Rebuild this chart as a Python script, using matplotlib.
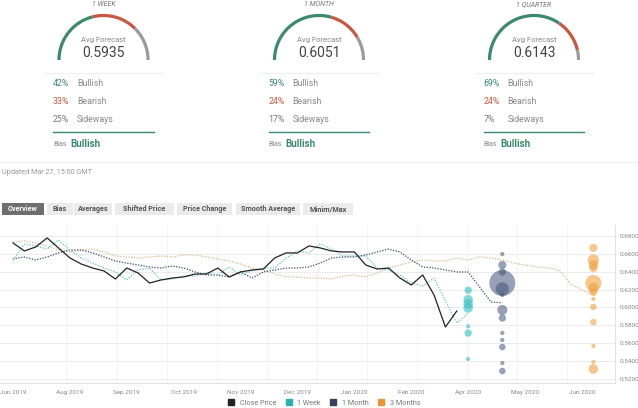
import numpy as np
import matplotlib.pyplot as plt
from matplotlib.lines import Line2D
from matplotlib.patches import Rectangle

plt.rcParams['font.family'] = ['Roboto', 'DejaVu Sans']

# gauge panels
horizons = ['1 WEEK', '1 MONTH', '1 QUARTER']
avg_fc = [0.5935, 0.6051, 0.6143]
bullish = [42, 59, 69]
bearish = [33, 24, 24]
sideways = [25, 17, 7]
bias = ['Bullish', 'Bullish', 'Bullish']

tabs = ['Overview', 'Bias', 'Averages', 'Shifted Price', 'Price Change', 'Smooth Average', 'Minim/Max']

# weekly series (week index 0 = early Jun 2019)
close = [0.6722, 0.6632, 0.6677, 0.6778, 0.6666, 0.6554, 0.6486, 0.6441, 0.6408, 0.6318,
         0.6441, 0.6385, 0.6273, 0.6307, 0.6329, 0.6341, 0.6374, 0.6374, 0.6441, 0.6341,
         0.6397, 0.6419, 0.6430, 0.6554, 0.6610, 0.6610, 0.6688, 0.6666, 0.6632, 0.6621,
         0.6621, 0.6475, 0.6430, 0.6441, 0.6329, 0.6251, 0.6363, 0.6139, 0.5780, 0.5960]
week1 = [0.6531, 0.6710, 0.6688, 0.6654, 0.6755, 0.6643, 0.6554, 0.6497, 0.6441, 0.6397,
         0.6307, 0.6419, 0.6441, 0.6307, 0.6318, 0.6352, 0.6352, 0.6385, 0.6363, 0.6453,
         0.6363, 0.6408, 0.6441, 0.6441, 0.6554, 0.6632, 0.6610, 0.6710, 0.6654, 0.6576,
         0.6576, 0.6576, 0.6441, 0.6419, 0.6363, 0.6273, 0.6240, 0.6329, 0.6072, 0.5825,
         0.5935]
month1 = [0.6542, 0.6565, 0.6531, 0.6565, 0.6610, 0.6643, 0.6643, 0.6610, 0.6565, 0.6520,
          0.6497, 0.6475, 0.6453, 0.6441, 0.6464, 0.6441, 0.6397, 0.6363, 0.6363, 0.6341,
          0.6397, 0.6329, 0.6397, 0.6419, 0.6441, 0.6441, 0.6453, 0.6497, 0.6554, 0.6565,
          0.6565, 0.6587, 0.6621, 0.6654, 0.6621, 0.6531, 0.6453, 0.6441, 0.6419, 0.6397,
          0.6397, 0.6229, 0.6061, 0.6051]
month3 = [0.6733, 0.6744, 0.6722, 0.6688, 0.6643, 0.6621, 0.6643, 0.6654, 0.6621, 0.6576,
          0.6565, 0.6554, 0.6565, 0.6576, 0.6565, 0.6587, 0.6587, 0.6565, 0.6542, 0.6520,
          0.6486, 0.6441, 0.6419, 0.6374, 0.6341, 0.6341, 0.6329, 0.6329, 0.6318, 0.6352,
          0.6363, 0.6341, 0.6385, 0.6441, 0.6475, 0.6509, 0.6531, 0.6520, 0.6520, 0.6554,
          0.6531, 0.6565, 0.6554, 0.6531, 0.6497, 0.6475, 0.6453, 0.6441, 0.6419, 0.6262,
          0.6195, 0.6143]

# forecast bubbles: position (week index), levels, number of votes
w1_x = 40
w1_lv = [0.6192, 0.6086, 0.6038, 0.5993, 0.5788, 0.5713, 0.5422]
w1_n = [4, 7, 7, 7, 1, 4, 1]
m1_x = 43
m1_lv = [0.6598, 0.6475, 0.6397, 0.6273, 0.6206, 0.6139, 0.5971, 0.5881, 0.5713, 0.5635,
         0.5556, 0.5377, 0.5287]
m1_n = [1, 5, 4, 55, 14, 1, 8, 4, 1, 1, 3, 1, 3]
q1_x = 51
q1_lv = [0.6666, 0.6531, 0.6475, 0.6441, 0.6273, 0.6217, 0.6173, 0.6094, 0.6005, 0.5836,
         0.5568, 0.5388, 0.5310]
q1_n = [5, 10, 7, 5, 21, 8, 5, 1, 3, 3, 1, 1, 7]

xtick_pos = [0, 5, 10, 15, 20, 25, 30, 35, 40, 45, 50]
xtick_lab = ['Jun 2019', 'Aug 2019', 'Sep 2019', 'Oct 2019', 'Nov 2019', 'Dec 2019',
             'Jan 2020', 'Feb 2020', 'Apr 2020', 'May 2020', 'Jun 2020']

GREEN = '#3b8a6c'
RED = '#c9573f'
GREY = '#9a9a9a'

fig = plt.figure(figsize=(6.38, 4.08), dpi=100)

# overlay in pixel units for the top widgets
ov = fig.add_axes([0, 0, 1, 1])
ov.set_xlim(0, 638)
ov.set_ylim(408, 0)
ov.axis('off')

centers = [103.5, 319, 534]
cy, r = 60, 44.5
for k, cx in enumerate(centers):
    a0 = 180
    for pct, col in zip([bullish[k], bearish[k], sideways[k]], [GREEN, RED, GREY]):
        a1 = a0 - 1.8 * pct
        t = np.radians(np.linspace(a0, a1, 60))
        ov.plot(cx + r * np.cos(t), cy - r * np.sin(t), color=col, lw=2.3, solid_capstyle='butt')
        a0 = a1
    ov.text(cx, 4, horizons[k], ha='center', va='center', fontsize=5, style='italic', color='#777777')
    ov.text(cx, 40, 'Avg Forecast', ha='center', va='center', fontsize=5.5, color='#888888')
    ov.text(cx, 53, f'{avg_fc[k]:.4f}', ha='center', va='center', fontsize=10, color='#444444')
    ov.plot([cx - 59.5, cx + 59.5], [73, 73], color='#eeeeee', lw=0.8)
    rows = [(bullish[k], 'Bullish', GREEN), (bearish[k], 'Bearish', RED), (sideways[k], 'Sideways', '#777777')]
    for j, (p, lab, col) in enumerate(rows):
        yy = 84 + 18 * j
        ov.text(cx - 50.5, yy, f'{p}%', ha='left', va='center', fontsize=6.3, color=col)
        ov.text(cx - 26.5, yy, lab, ha='left', va='center', fontsize=6.3, color='#888888')
    ov.plot([cx - 50.5, cx + 50], [132, 132], color=GREEN, lw=1)
    ov.text(cx - 50.5, 145, 'Bias', ha='left', va='center', fontsize=5, color='#888888')
    ov.text(cx - 33.5, 144, bias[k], ha='left', va='center', fontsize=7, fontweight='bold', color=GREEN)

ov.plot([0, 638], [162, 162], color='#f0f0f0', lw=0.8)
ov.text(2, 173, 'Updated Mar 27, 15:00 GMT', ha='left', va='center', fontsize=5.2, color='#999999')

# tab buttons
tab_x = [2, 47, 74, 115, 177, 236, 303]
tab_w = [42, 26, 38, 59, 55, 64, 50]
for i, name in enumerate(tabs):
    active = i == 0
    ov.add_patch(Rectangle((tab_x[i], 203), tab_w[i], 12, color='#6e6e6e' if active else '#ebebeb', lw=0))
    ov.text(tab_x[i] + tab_w[i] / 2, 209, name, ha='center', va='center', fontsize=5.2,
            fontweight='bold', color='white' if active else '#555555')

# main chart
ax = fig.add_axes([0, 1 - 383 / 408, 615 / 638, 158 / 408])
ax.plot(np.arange(len(month3)), month3, color='#d6b98c', lw=0.9, ls=(0, (1, 1.2)))
ax.plot(np.arange(len(month1)), month1, color='#3d4868', lw=0.9, ls=(0, (1, 1.2)))
ax.plot(np.arange(len(week1)), week1, color='#62c4c4', lw=0.9, ls=(0, (1, 1.2)))
ax.plot(np.arange(len(close)), close, color='#222222', lw=0.9)

k = 6.3
ax.scatter([w1_x] * len(w1_lv), w1_lv, s=np.array(w1_n) * k + 3, color='#3cc4c4', alpha=0.65, lw=0, zorder=3)
ax.scatter([m1_x] * len(m1_lv), m1_lv, s=np.array(m1_n) * k + 3, color='#42557a', alpha=0.55, lw=0, zorder=3)
ax.scatter([q1_x] * len(q1_lv), q1_lv, s=np.array(q1_n) * k + 3, color='#f0a040', alpha=0.6, lw=0, zorder=3)

ax.set_xlim(-1.14, 52.9)
ax.set_ylim(0.5153, 0.6923)
ax.set_xticks(xtick_pos)
ax.set_xticklabels(xtick_lab)
ax.set_xticks(np.arange(4.7, 52, 4.4), minor=True)
ax.set_yticks(np.arange(0.52, 0.681, 0.02))
ax.yaxis.set_major_formatter(plt.FuncFormatter(lambda v, p: f'{v:.4f}'))
ax.yaxis.tick_right()
ax.tick_params(axis='both', which='both', length=0, labelsize=4.6, colors='#888888')
ax.tick_params(axis='x', pad=5)
ax.tick_params(axis='y', pad=3)
ax.grid(axis='y', which='major', color='#e8e8e8', lw=0.6)
ax.grid(axis='x', which='minor', color='#f3f3f3', lw=0.6)
ax.set_axisbelow(True)
for s in ['top', 'left']:
    ax.spines[s].set_visible(False)
ax.spines['right'].set_color('#dddddd')
ax.spines['bottom'].set_color('#dddddd')
ax.spines['right'].set_linewidth(0.6)
ax.spines['bottom'].set_linewidth(0.6)
ax.patch.set_alpha(0)

handles = [Line2D([], [], marker='s', ls='none', markersize=5, color=c)
           for c in ['#222222', '#2ab0b0', '#34405e', '#e8963a']]
fig.legend(handles, ['Close Price', '1 Week', '1 Month', '3 Months'], loc='center',
           bbox_to_anchor=(0.505, 0.012), ncol=4, frameon=False, fontsize=5.2,
           handletextpad=0.2, columnspacing=0.7, labelcolor='#777777')

plt.savefig('out.png', dpi=100)
